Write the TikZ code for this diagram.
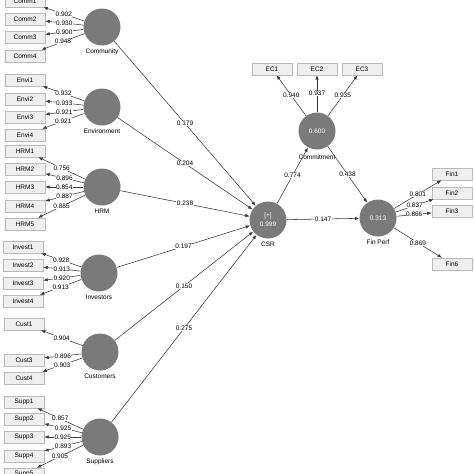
\documentclass[tikz,border=0pt]{standalone}
\usepackage{fontspec}
\setmainfont{Liberation Sans}
\usepackage{tikz}
\usetikzlibrary{arrows.meta}
\definecolor{plsGray}{HTML}{7A7A7A}
\definecolor{boxFill}{HTML}{EFEFEF}
\definecolor{boxLine}{HTML}{B9B9B9}
\definecolor{ink}{HTML}{383838}

\begin{document}
\begin{tikzpicture}[x=1pt,y=-1pt,font=\fontsize{6.5}{9}\selectfont,>={Latex[length=4.5pt,width=3.4pt]},
  lv/.style={circle,fill=plsGray,minimum size=37pt,inner sep=0pt,text=white,align=center,label distance=4pt},
  ind/.style={draw=boxLine,fill=boxFill,minimum width=40pt,minimum height=12pt,inner sep=0pt},
  pth/.style={->,draw=ink,line width=0.55pt},
  val/.style={fill=white,inner sep=0.4pt,pos=0.5}]
\useasboundingbox (0,0) rectangle (474,474);
% latent variables
\node[lv,label=below:Community]   (community) at (102,27)  {};
\node[lv,label=below:Environment] (envi)      at (102,107) {};
\node[lv,label=below:HRM]         (hrm)       at (102,187) {};
\node[lv,label=below:Investors]   (invest)    at (99,273)  {};
\node[lv,label=below:Customers]   (cust)      at (100,352) {};
\node[lv,label=below:Suppliers]   (supp)      at (100,437) {};
\node[lv,label=below:CSR]         (csr)       at (268,220) {[+]\\0.999};
\node[lv,label={[label distance=2pt]below:Commitment}] (commit) at (317,131) {0.600};
\node[lv,label=below:Fin Perf]    (finperf)   at (378,218) {0.313};
% Community indicators
\node[ind] (comm1) at (25,1)  {Comm1};
\node[ind] (comm2) at (25,19) {Comm2};
\node[ind] (comm3) at (25,37) {Comm3};
\node[ind] (comm4) at (25,56) {Comm4};
\draw[pth] (community) -- node[val]{0.902} (comm1);
\draw[pth] (community) -- node[val]{0.930} (comm2);
\draw[pth] (community) -- node[val]{0.900} (comm3);
\draw[pth] (community) -- node[val]{0.948} (comm4);
% Environment indicators
\node[ind] (envi1) at (25,80)  {Envi1};
\node[ind] (envi2) at (25,99)  {Envi2};
\node[ind] (envi3) at (25,117) {Envi3};
\node[ind] (envi4) at (25,135) {Envi4};
\draw[pth] (envi) -- node[val]{0.932} (envi1);
\draw[pth] (envi) -- node[val]{0.933} (envi2);
\draw[pth] (envi) -- node[val]{0.921} (envi3);
\draw[pth] (envi) -- node[val]{0.921} (envi4);
% HRM indicators
\node[ind] (hrm1) at (25,151) {HRM1};
\node[ind] (hrm2) at (25,169) {HRM2};
\node[ind] (hrm3) at (25,187) {HRM3};
\node[ind] (hrm4) at (25,206) {HRM4};
\node[ind] (hrm5) at (25,224) {HRM5};
\draw[pth] (hrm) -- node[val]{0.756} (hrm1);
\draw[pth] (hrm) -- node[val]{0.896} (hrm2);
\draw[pth] (hrm) -- node[val]{0.854} (hrm3);
\draw[pth] (hrm) -- node[val]{0.887} (hrm4);
\draw[pth] (hrm) -- node[val]{0.885} (hrm5);
% Investors indicators
\node[ind] (invest1) at (23,247) {Invest1};
\node[ind] (invest2) at (23,265) {Invest2};
\node[ind] (invest3) at (23,283) {Invest3};
\node[ind] (invest4) at (23,301) {Invest4};
\draw[pth] (invest) -- node[val]{0.928} (invest1);
\draw[pth] (invest) -- node[val]{0.913} (invest2);
\draw[pth] (invest) -- node[val]{0.920} (invest3);
\draw[pth] (invest) -- node[val]{0.913} (invest4);
% Customers indicators
\node[ind] (cust1) at (24,324) {Cust1};
\node[ind] (cust3) at (24,360) {Cust3};
\node[ind] (cust4) at (24,378) {Cust4};
\draw[pth] (cust) -- node[val]{0.904} (cust1);
\draw[pth] (cust) -- node[val]{0.896} (cust3);
\draw[pth] (cust) -- node[val]{0.903} (cust4);
% Suppliers indicators
\node[ind] (supp1) at (24,402) {Supp1};
\node[ind] (supp2) at (24,419) {Supp2};
\node[ind] (supp3) at (24,437) {Supp3};
\node[ind] (supp4) at (24,456) {Supp4};
\node[ind] (supp5) at (24,474) {Supp5};
\draw[pth] (supp) -- node[val]{0.857} (supp1);
\draw[pth] (supp) -- node[val]{0.925} (supp2);
\draw[pth] (supp) -- node[val]{0.925} (supp3);
\draw[pth] (supp) -- node[val]{0.893} (supp4);
\draw[pth] (supp) -- node[val]{0.905} (supp5);
% Commitment indicators
\node[ind] (ec1) at (272,69) {EC1};
\node[ind] (ec2) at (317,69) {EC2};
\node[ind] (ec3) at (362,69) {EC3};
\draw[pth] (commit) -- node[val]{0.940} (ec1);
\draw[pth] (commit) -- node[val]{0.937} (ec2);
\draw[pth] (commit) -- node[val]{0.935} (ec3);
% Fin Perf indicators
\node[ind] (fin1) at (452,174) {Fin1};
\node[ind] (fin2) at (452,193) {Fin2};
\node[ind] (fin3) at (452,211) {Fin3};
\node[ind] (fin6) at (452,264) {Fin6};
\draw[pth] (finperf) -- node[val]{0.801} (fin1);
\draw[pth] (finperf) -- node[val]{0.837} (fin2);
\draw[pth] (finperf) -- node[val]{0.866} (fin3);
\draw[pth] (finperf) -- node[val]{0.869} (fin6);
% structural paths
\draw[pth] (community) -- node[val]{0.179} (csr);
\draw[pth] (envi)      -- node[val]{0.204} (csr);
\draw[pth] (hrm)       -- node[val]{0.238} (csr);
\draw[pth] (invest)    -- node[val]{0.197} (csr);
\draw[pth] (cust)      -- node[val]{0.150} (csr);
\draw[pth] (supp)      -- node[val]{0.275} (csr);
\draw[pth] (csr)    -- node[val]{0.774} (commit);
\draw[pth] (csr)    -- node[val]{0.147} (finperf);
\draw[pth] (commit) -- node[val]{0.438} (finperf);
\end{tikzpicture}
\end{document}
